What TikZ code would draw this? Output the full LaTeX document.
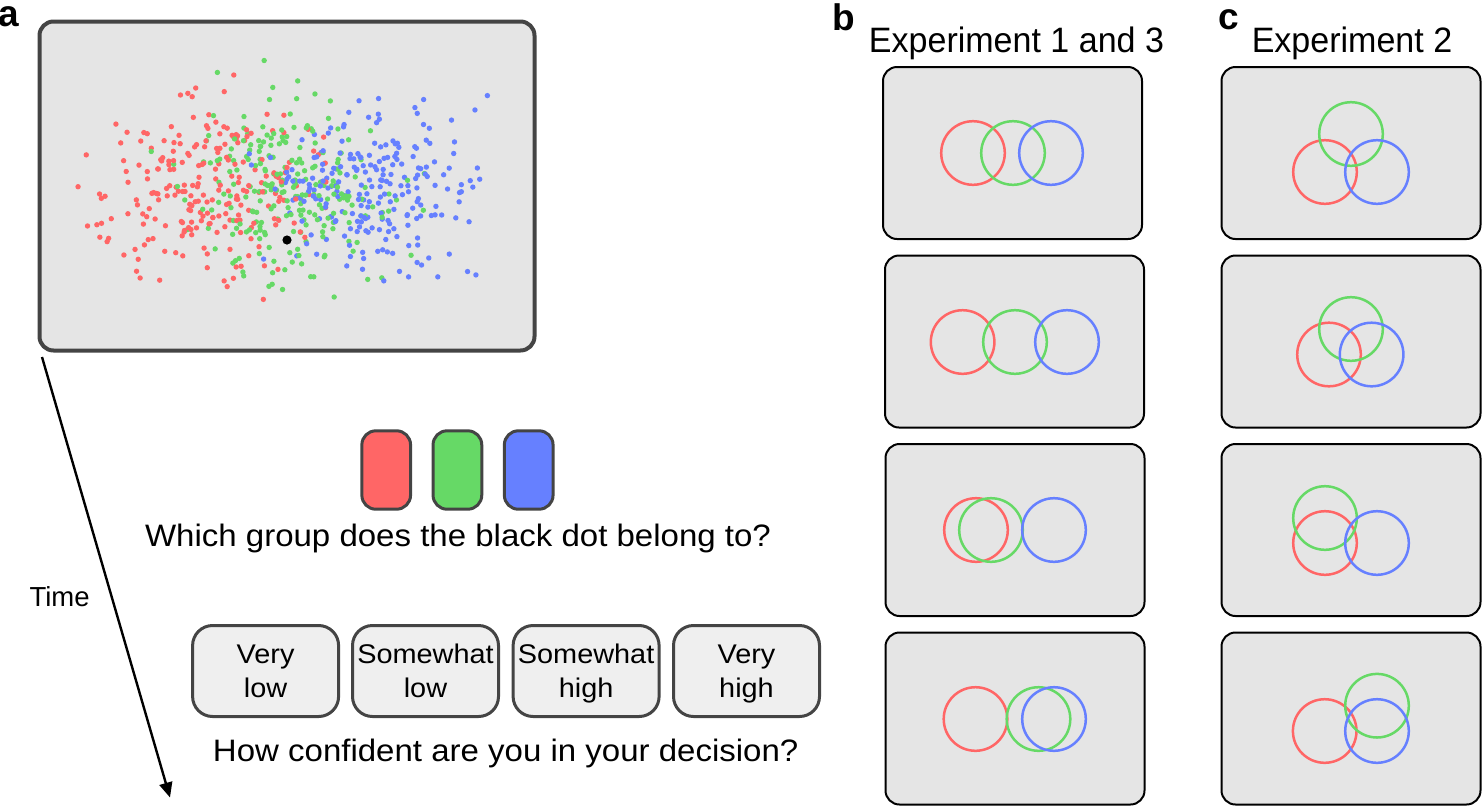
\documentclass[tikz,border=0pt]{standalone}
\usepackage{fontspec}
\setmainfont{Liberation Sans}
\usetikzlibrary{arrows.meta}
\definecolor{framegray}{HTML}{E5E5E5}
\definecolor{boxgray}{HTML}{EFEFEF}
\definecolor{edgegray}{HTML}{444444}
\definecolor{dred}{HTML}{FF6666}
\definecolor{dgreen}{HTML}{66D966}
\definecolor{dblue}{HTML}{6680FF}
\tikzset{
  aframe/.style={draw=edgegray, line width=4, fill=framegray, rounded corners=14,
    minimum width=495, minimum height=329, inner sep=0},
  bframe/.style={draw=black, line width=2, fill=framegray, rounded corners=14,
    minimum width=259, minimum height=172, inner sep=0},
  colbtn/.style={draw=edgegray, line width=3, fill=#1, rounded corners=14,
    minimum width=48.7, minimum height=78.4, inner sep=0},
  confbox/.style={draw=edgegray, line width=3, fill=boxgray, rounded corners=20,
    minimum width=146, minimum height=91, inner sep=0},
  conftxt/.style={font=\fontsize{27}{27}\selectfont, inner sep=0, anchor=base, xscale=1.07},
  qtxt/.style={font=\fontsize{31}{31}\selectfont, inner sep=0, anchor=base, xscale=1.065},
  exptxt/.style={font=\fontsize{35.3}{35.3}\selectfont, inner sep=0, anchor=base, xscale=0.964},
  timetxt/.style={font=\fontsize{27.5}{27.5}\selectfont, inner sep=0, anchor=base west},
  lab/.style={font=\fontsize{37}{37}\selectfont\bfseries, inner sep=0, anchor=base west},
  ring/.style={draw=#1, line width=2.5},
}
\begin{document}
\begin{tikzpicture}[x=1pt, y=-1pt]
\useasboundingbox (0,0) rectangle (1483,807);

% ---------- panel a ----------
\node[lab] (la) at (-1.5,26.7) {a};
\node[aframe] (fa) at (287,186) {};
\begin{scope}
  \clip[rounded corners=12] (41.5,23.5) rectangle (532.5,348.5);
  \pgfmathsetseed{31415}
  \foreach \k in {1,...,235}{
    \foreach \c/\mx/\my/\sx/\sy in {dred/210/192/52/42, dgreen/286/187/52/42, dblue/372/185/50/40}{
      \pgfmathsetmacro\ua{0.0005+0.999*rnd}
      \pgfmathsetmacro\ub{360*rnd}
      \pgfmathsetmacro\rr{sqrt(-2*ln(\ua))}
      \pgfmathsetmacro\px{\mx+\sx*\rr*cos(\ub)}
      \pgfmathsetmacro\py{\my+\sy*\rr*sin(\ub)}
      \fill[\c] (\px,\py) circle[radius=2.7];
    }
  }
\end{scope}
\fill[black] (287,240) circle[radius=4.6];

% time arrow
\coordinate (tstart) at (42,357);
\coordinate (tend) at (170,797.5);
\draw[line width=2.4, -{Triangle[length=15, width=13]}] (tstart) -- (tend);
\node[timetxt] (time) at (29.3,606.7) {Time};

% colour buttons
\node[colbtn=dred] (bred) at (386.2,470) {};
\node[colbtn=dgreen] (bgreen) at (457.4,470) {};
\node[colbtn=dblue] (bblue) at (528.7,470) {};
\node[qtxt] (q1) at (458,546.5) {Which group does the black dot belong to?};

% confidence boxes
\node[confbox] (c1) at (265.6,671) {};
\node[confbox] (c2) at (425.5,671) {};
\node[confbox] (c3) at (586.1,671) {};
\node[confbox] (c4) at (746.5,671) {};
\node[conftxt] (c1a) at (265.6,663.3) {Very};
\node[conftxt] (c1b) at (265.6,697.3) {low};
\node[conftxt] (c2a) at (425.5,663.3) {Somewhat};
\node[conftxt] (c2b) at (425.5,697.3) {low};
\node[conftxt] (c3a) at (586.1,663.3) {Somewhat};
\node[conftxt] (c3b) at (586.1,697.3) {high};
\node[conftxt] (c4a) at (746.5,663.3) {Very};
\node[conftxt] (c4b) at (746.5,697.3) {high};
\node[qtxt] (q2) at (505.7,761.5) {How confident are you in your decision?};

% ---------- panel b ----------
\node[lab] (lb) at (832.5,30.5) {b};
\node[exptxt] (eb) at (1016.5,52.7) {Experiment 1 and 3};
\node[bframe] (b1) at (1012.5,153) {};
\node[bframe] (b2) at (1014.5,341.5) {};
\node[bframe] (b3) at (1015,530) {};
\node[bframe] (b4) at (1015,718.5) {};
\draw[ring=dred]   (973,153) circle[radius=31.8];
\draw[ring=dgreen] (1013,153) circle[radius=31.8];
\draw[ring=dblue]  (1051,153) circle[radius=31.8];
\draw[ring=dred]   (962.6,342) circle[radius=31.8];
\draw[ring=dgreen] (1015,342) circle[radius=31.8];
\draw[ring=dblue]  (1067,342) circle[radius=31.8];
\draw[ring=dred]   (976,530) circle[radius=31.8];
\draw[ring=dgreen] (991,530) circle[radius=31.8];
\draw[ring=dblue]  (1054,530) circle[radius=31.8];
\draw[ring=dred]   (975.5,719) circle[radius=31.8];
\draw[ring=dgreen] (1038.5,719) circle[radius=31.8];
\draw[ring=dblue]  (1054,719) circle[radius=31.8];

% ---------- panel c ----------
\node[lab] (lc) at (1218,29.3) {c};
\node[exptxt] (ec) at (1352,52.7) {Experiment 2};
\node[bframe] (k1) at (1351,153) {};
\node[bframe] (k2) at (1351,341.5) {};
\node[bframe] (k3) at (1351,530) {};
\node[bframe] (k4) at (1351,718.5) {};
\draw[ring=dred]   (1325,172) circle[radius=31.8];
\draw[ring=dgreen] (1351,134) circle[radius=31.8];
\draw[ring=dblue]  (1377,172) circle[radius=31.8];
\draw[ring=dred]   (1329,354.5) circle[radius=31.8];
\draw[ring=dgreen] (1351,329) circle[radius=31.8];
\draw[ring=dblue]  (1371.6,354.5) circle[radius=31.8];
\draw[ring=dred]   (1325,543) circle[radius=31.8];
\draw[ring=dgreen] (1325,518) circle[radius=31.8];
\draw[ring=dblue]  (1377,543) circle[radius=31.8];
\draw[ring=dred]   (1324.7,731) circle[radius=31.8];
\draw[ring=dgreen] (1377,705.7) circle[radius=31.8];
\draw[ring=dblue]  (1377,731) circle[radius=31.8];
\end{tikzpicture}
\end{document}
